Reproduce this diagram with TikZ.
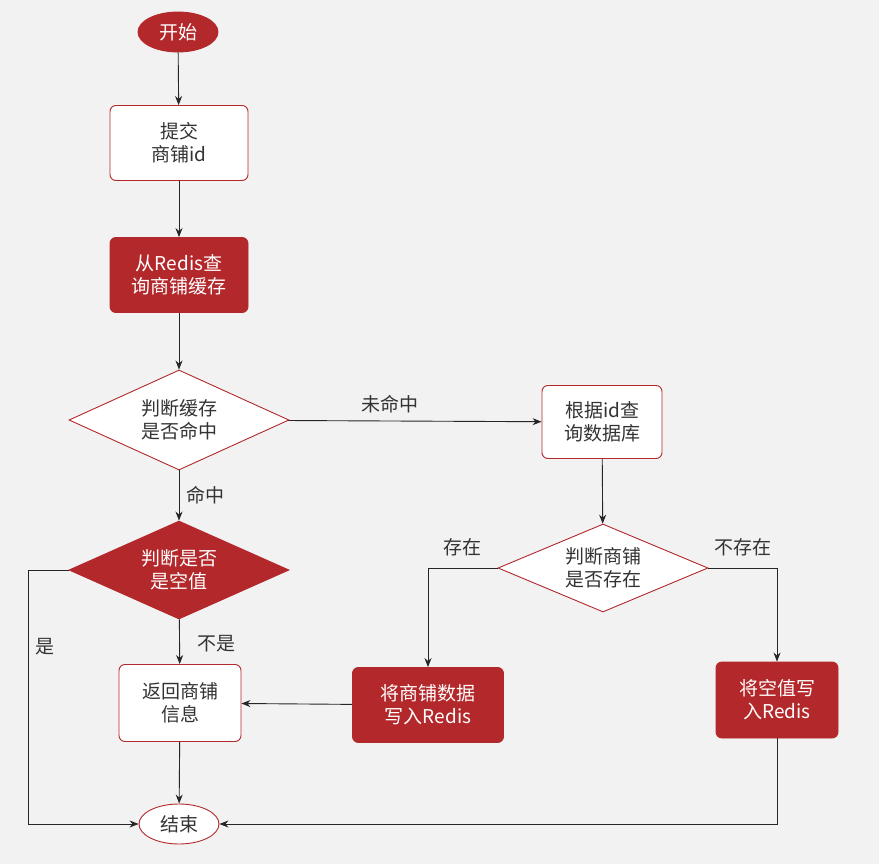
\documentclass[tikz,border=0pt]{standalone}
\usepackage{fontspec}
\setmainfont{Noto Sans CJK SC}
\usetikzlibrary{shapes.geometric,arrows.meta}
\definecolor{rd}{HTML}{B3282B}
\definecolor{bg}{HTML}{F2F2F2}
\begin{document}
\begin{tikzpicture}[x=1pt,y=-1pt,
  font=\fontsize{19}{23}\selectfont,
  box/.style={draw=rd,line width=0.9pt,rounded corners=6pt,minimum width=138pt,minimum height=75pt,align=center,fill=white,text=black!80},
  rbox/.style={box,fill=rd,text=white},
  dia/.style={diamond,aspect=2.2,draw=rd,line width=0.9pt,align=center,fill=white,text=black!80,inner sep=1pt},
  ell/.style={ellipse,draw=rd,line width=0.9pt,minimum width=80pt,minimum height=40pt,inner sep=0pt},
  arr/.style={-{Stealth[length=9pt,width=7pt]},line width=0.9pt,black!85},
  lab/.style={text=black!80}]
\fill[bg] (0,0) rectangle (879,864);
\node[ell,fill=rd,text=white] (start) at (178,32) {开始};
\node[box] (submit) at (179,143) {提交\\商铺id};
\node[rbox] (redis) at (179,275) {从Redis查\\询商铺缓存};
\node[dia,minimum width=220pt,minimum height=100pt] (hit) at (179,420) {判断缓存\\是否命中};
\node[box,minimum width=120pt,minimum height=73pt] (db) at (602,422) {根据id查\\询数据库};
\node[dia,fill=rd,text=white,minimum width=220pt,minimum height=98pt] (null) at (179,570) {判断是否\\是空值};
\node[dia,minimum width=210pt,minimum height=88pt] (exist) at (603,568) {判断商铺\\是否存在};
\node[box,minimum width=122pt,minimum height=77pt] (ret) at (180,703) {返回商铺\\信息};
\node[rbox,minimum width=151pt,minimum height=75pt] (write) at (428,705) {将商铺数据\\写入Redis};
\node[rbox,minimum width=122pt,minimum height=76pt] (wnull) at (777,700) {将空值写\\入Redis};
\node[ell,fill=white,text=black!80] (end) at (179,824) {结束};
\coordinate (c1) at (28,570);
\coordinate (c2) at (28,824);
\coordinate (c3) at (428,568);
\coordinate (c4) at (777,568);
\coordinate (c5) at (777,824);
\draw[arr] (start) -- (submit);
\draw[arr] (submit) -- (redis);
\draw[arr] (redis) -- (hit);
\draw[arr] (hit) -- node[lab,above=4pt,pos=0.4] {未命中} (db);
\draw[arr] (hit) -- node[lab,right=4pt] {命中} (null);
\draw[arr] (null) -- node[lab,right=14pt,pos=0.55] {不是} (ret);
\draw[arr] (null.west) -- (c1) -- node[lab,right=4pt,pos=0.3] {是} (c2) -- (end);
\draw[arr] (db) -- (exist);
\draw[arr] (exist.west) -- node[lab,above=8pt,pos=0.5] {存在} (c3) -- (write);
\draw[arr] (exist.east) -- node[lab,above=8pt,pos=0.5] {不存在} (c4) -- (wnull);
\draw[arr] (write) -- (ret);
\draw[arr] (ret) -- (end);
\draw[arr] (wnull) -- (c5) -- (end);
\end{tikzpicture}
\end{document}
